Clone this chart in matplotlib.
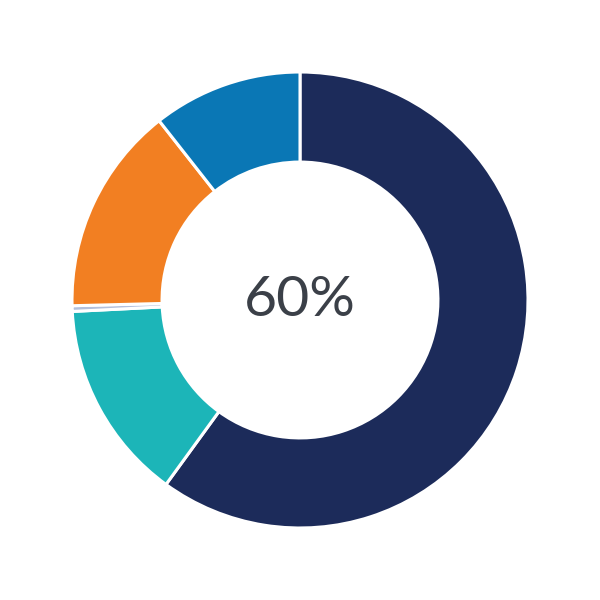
import matplotlib
matplotlib.use("Agg")
import matplotlib.pyplot as plt

# slice shares, clockwise from 12 o'clock
labels = ["Navy", "Teal", "Gray", "Orange", "Blue"]
values = [60.0, 14.2, 0.4, 14.8, 10.6]
colors = ["#1c2b5a", "#1cb5b8", "#b3c0dc", "#f27f22", "#0a77b5"]
center_label = "60%"

fig = plt.figure(figsize=(6, 6), dpi=100)
ax = fig.add_axes([0, 0, 1, 1])

ax.pie(values, colors=colors, startangle=90, counterclock=False,
       radius=1.0,
       wedgeprops=dict(width=0.395, edgecolor="white", linewidth=2.2))

ax.text(0, 0.0, center_label, ha="center", va="center",
        fontsize=41, color="#3b4048", family=["Lato", "DejaVu Sans"])

lim = 300 / 228
ax.set_xlim(-lim, lim)
ax.set_ylim(-lim, lim)
ax.set_aspect("equal")
ax.axis("off")

fig.savefig("out.png", dpi=100, facecolor="white")
